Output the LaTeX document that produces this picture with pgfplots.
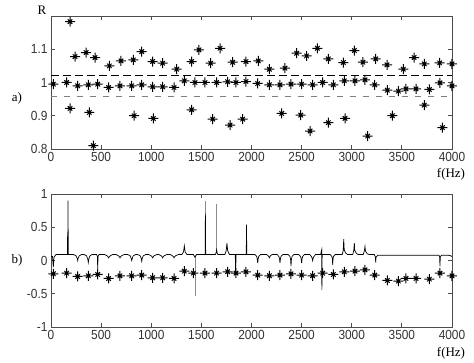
\documentclass[border=0pt]{standalone}
\usepackage{pgfplots}
\pgfplotsset{compat=1.18}
\usepackage{fontspec}
\setmainfont{Liberation Serif}
\newfontfamily\arial[FakeStretch=0.9]{Liberation Sans}
\pgfdeclareplotmark{mstar}{%
 \pgfpathmoveto{\pgfpoint{-\pgfplotmarksize}{0pt}}\pgfpathlineto{\pgfpoint{\pgfplotmarksize}{0pt}}%
 \pgfpathmoveto{\pgfpoint{0pt}{-\pgfplotmarksize}}\pgfpathlineto{\pgfpoint{0pt}{\pgfplotmarksize}}%
 \pgfpathmoveto{\pgfpoint{-0.45\pgfplotmarksize}{-0.45\pgfplotmarksize}}\pgfpathlineto{\pgfpoint{0.45\pgfplotmarksize}{0.45\pgfplotmarksize}}%
 \pgfpathmoveto{\pgfpoint{-0.45\pgfplotmarksize}{0.45\pgfplotmarksize}}\pgfpathlineto{\pgfpoint{0.45\pgfplotmarksize}{-0.45\pgfplotmarksize}}%
 \pgfusepathqstroke}
\pgfplotsset{
  mybase/.style={
    scale only axis, width=401pt, height=133pt,
    xmin=0, xmax=4000, xtick={0,500,...,4000},
    scaled x ticks=false,
    tick align=inside, xtick pos=both, ytick pos=both,
    major tick length=4pt,
    axis line style={black!70, line width=0.8pt},
    every tick/.style={black!70, line width=0.8pt},
    tick label style={font=\arial\fontsize{13.2}{15}\selectfont, text=black!80},
    /pgf/number format/assume math mode=true,
    /pgf/number format/1000 sep={},
  },
  pts/.style={only marks, mark=mstar, mark size=5pt, black, line width=1pt},
}
\begin{document}
\begin{tikzpicture}
\path[use as bounding box] (0pt,0pt) rectangle (474pt,-363pt);
% ---------- a) ----------
\begin{axis}[mybase, at={(51pt,-149pt)}, anchor=south west,
  ymin=0.8, ymax=1.2, ytick={0.8,0.9,1,1.1}, yticklabels={0.8,0.9,1,1.1}]
\addplot[black, dashed, dash pattern=on 8pt off 4pt, line width=1pt] coordinates {(0,1.021) (4000,1.021)};
\addplot[black!50, dash pattern=on 6pt off 7pt, line width=1pt] coordinates {(0,0.959) (4000,0.959)};
% series near 1
\addplot[pts] coordinates {
(23,0.995) (156,1.0) (266,0.99) (372,0.993) (466,0.995) (575,0.985) (688,0.99)
(805,0.99) (905,0.993) (1014,0.987) (1114,0.987) (1227,0.985) (1330,1.005)
(1436,1.0) (1536,1.0) (1652,1.0) (1762,1.002) (1845,1.0) (1945,1.003) (2062,0.997)
(2178,0.993) (2284,0.993) (2394,0.995) (2500,0.995) (2610,0.993) (2710,1.0)
(2816,0.993) (2926,1.005) (3032,1.005) (3132,1.008) (3229,0.993) (3355,0.977)
(3465,0.974) (3541,0.981) (3641,0.981) (3774,0.979) (3880,0.999) (4000,0.99)};
% upper series
\addplot[pts] coordinates {
(190,1.183) (240,1.078) (350,1.09) (439,1.075) (582,1.05) (698,1.065) (821,1.068)
(905,1.093) (1014,1.063) (1114,1.058) (1254,1.04) (1403,1.063) (1476,1.098)
(1593,1.058) (1686,1.103) (1812,1.061) (1945,1.063) (2068,1.065) (2178,1.04)
(2334,1.043) (2451,1.088) (2550,1.08) (2657,1.103) (2766,1.071) (2916,1.06)
(3026,1.096) (3112,1.061) (3239,1.071) (3352,1.053) (3514,1.04) (3622,1.075)
(3724,1.056) (3877,1.059) (4000,1.056)};
% lower series
\addplot[pts] coordinates {
(190,0.922) (382,0.91) (422,0.81) (828,0.90) (1021,0.892) (1403,0.918) (1613,0.89)
(1786,0.872) (1912,0.89) (2301,0.907) (2491,0.902) (2584,0.854) (2766,0.879)
(2933,0.892) (3159,0.839) (3406,0.90) (3724,0.932) (3905,0.864)};
\end{axis}
% ---------- b) ----------
\begin{axis}[mybase, at={(51pt,-327pt)}, anchor=south west,
  ymin=-1, ymax=1, ytick={-1,-0.5,0,0.5,1}, yticklabels={-1,-0.5,0,0.5,1}]
\addplot[black!45, line width=0.7pt] coordinates {(1436,0.09) (1436,-0.54)};
\addplot[black!45, line width=0.7pt] coordinates {(1541,0.7) (1541,0.9)};
\addplot[black!45, line width=0.7pt] coordinates {(1652,0.16) (1652,0.85)};
\addplot[black, line width=0.7pt] coordinates {
(0,0.06) (15,0.06) (23,-0.1) (30,0.05) (50,0.09)
(164,0.09) (166,0.43) (168,0.09) (170,0.9) (172,0.09)
(225,0.09) (250,0.07) (262,0.03) (266,0.0) (270,0.03) (282,0.07) (305,0.09)
(330,0.09) (355,0.07) (367,0.02) (372,-0.03) (377,0.02) (389,0.07) (410,0.09)
(455,0.09) (463,0.06) (466,-0.14) (469,0.06) (480,0.09)
(535,0.09) (560,0.07) (572,0.05) (575,0.04) (578,0.05) (590,0.07) (615,0.09)
(650,0.09) (673,0.07) (685,0.05) (688,0.04) (691,0.05) (703,0.07) (730,0.09)
(765,0.09) (790,0.07) (800,0.03) (805,0.0) (810,0.03) (820,0.07) (845,0.09)
(865,0.09) (890,0.07) (900,0.03) (905,-0.01) (910,0.03) (920,0.07) (945,0.09)
(975,0.09) (1000,0.07) (1011,0.05) (1014,0.04) (1017,0.05) (1028,0.07) (1055,0.09)
(1075,0.09) (1100,0.07) (1111,0.05) (1114,0.04) (1117,0.05) (1128,0.07) (1155,0.09)
(1190,0.09) (1213,0.07) (1224,0.05) (1227,0.04) (1230,0.05) (1241,0.07) (1270,0.09)
(1305,0.09) (1322,0.13) (1330,0.22) (1338,0.13) (1355,0.09)
(1420,0.09) (1432,0.06) (1436,0.05) (1440,0.06) (1452,0.09)
(1538,0.09) (1540,0.71) (1543,0.09)
(1640,0.09) (1648,0.12) (1652,0.16) (1656,0.12) (1664,0.09)
(1735,0.09) (1748,0.15) (1755,0.26) (1762,0.15) (1780,0.09)
(1838,0.09) (1842,-0.2) (1846,0.09)
(1948,0.09) (1950,0.54) (1953,0.09)
(2035,0.09) (2052,0.06) (2058,0.02) (2062,-0.04) (2066,0.02) (2072,0.06) (2090,0.09)
(2150,0.09) (2168,0.07) (2175,0.05) (2178,0.04) (2181,0.05) (2188,0.07) (2205,0.09)
(2255,0.09) (2274,0.06) (2280,0.02) (2284,-0.04) (2288,0.02) (2294,0.06) (2312,0.09)
(2365,0.09) (2384,0.06) (2390,0.01) (2394,-0.08) (2398,0.01) (2404,0.06) (2422,0.09)
(2470,0.09) (2490,0.06) (2496,0.02) (2500,-0.04) (2504,0.02) (2510,0.06) (2528,0.09)
(2580,0.09) (2598,0.06) (2606,0.03) (2610,0.0) (2614,0.03) (2622,0.06) (2640,0.09)
(2690,0.09) (2700,0.16) (2702,-0.44) (2705,0.09)
(2785,0.09) (2802,0.06) (2807,0.02) (2810,-0.07) (2813,0.02) (2818,0.06) (2835,0.09)
(2905,0.09) (2915,0.15) (2920,0.32) (2925,0.16) (2940,0.11) (2960,0.09)
(3010,0.09) (3020,0.15) (3026,0.26) (3030,0.15) (3045,0.11) (3065,0.09)
(3115,0.09) (3125,0.14) (3132,0.21) (3137,0.14) (3155,0.10) (3175,0.09)
(3225,0.09) (3236,0.05) (3239,-0.03) (3242,0.05) (3260,0.08)
(3870,0.08) (3877,0.05) (3880,-0.09) (3883,0.05) (3895,0.08)
(3960,0.08) (3990,0.07) (4000,0.06)};
\addplot[pts] coordinates {
(23,-0.20) (156,-0.19) (266,-0.24) (372,-0.23) (466,-0.21) (575,-0.27) (688,-0.23)
(805,-0.23) (905,-0.22) (1014,-0.26) (1114,-0.26) (1227,-0.27) (1330,-0.16)
(1420,-0.19) (1536,-0.19) (1652,-0.19) (1762,-0.17) (1845,-0.19) (1945,-0.17)
(2062,-0.22) (2178,-0.23) (2284,-0.22) (2394,-0.20) (2500,-0.22) (2610,-0.23)
(2710,-0.19) (2816,-0.21) (2926,-0.17) (3032,-0.16) (3132,-0.14) (3229,-0.22)
(3355,-0.30) (3465,-0.31) (3541,-0.27) (3641,-0.27) (3774,-0.28) (3880,-0.19)
(4000,-0.23)};
\end{axis}
% ---------- labels ----------
\node[font=\fontsize{13}{15}\selectfont] at (42pt,-10pt) {R};
\node[font=\fontsize{13}{15}\selectfont] at (17pt,-98pt) {a)};
\node[font=\fontsize{13}{15}\selectfont] at (17pt,-260pt) {b)};
\node[font=\fontsize{13}{15}\selectfont] at (451pt,-174pt) {f(Hz)};
\node[font=\fontsize{13}{15}\selectfont] at (451pt,-353pt) {f(Hz)};
\end{tikzpicture}
\end{document}
